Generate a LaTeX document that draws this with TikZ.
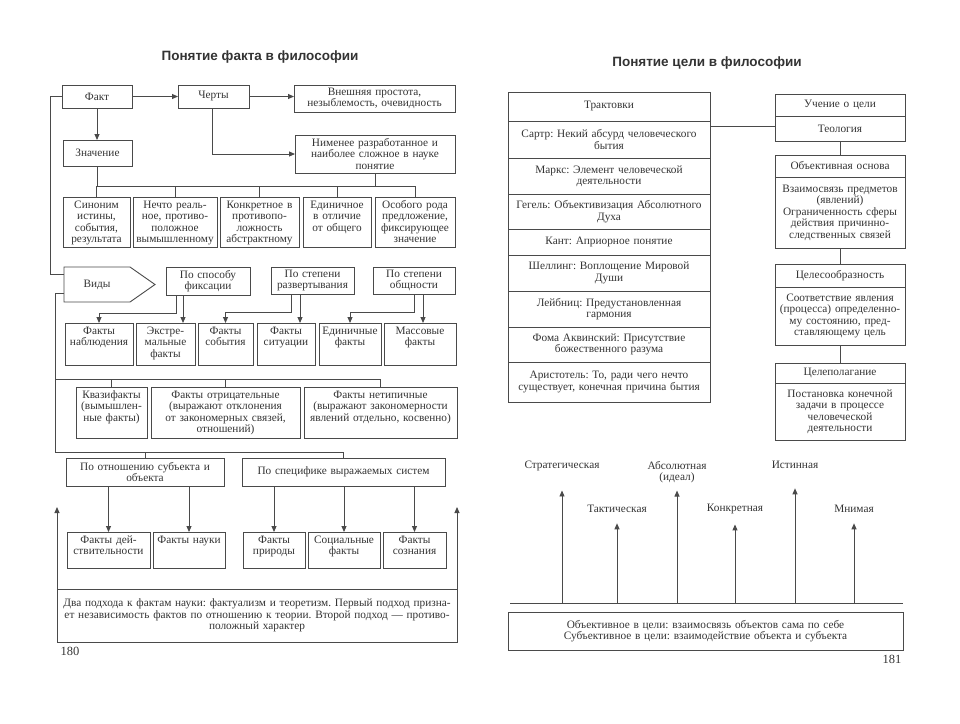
\documentclass[tikz,border=0pt]{standalone}
\usepackage{fontspec}
\setmainfont{Liberation Serif}
\newfontfamily\headfont{Liberation Sans}
\usetikzlibrary{arrows.meta, positioning, shapes.symbols}
\definecolor{ink}{HTML}{333333}
\definecolor{rule}{HTML}{4A4A4A}
\frenchspacing

\begin{document}
\begin{tikzpicture}[
  x=1pt, y=-1pt,
  every node/.style={font=\fontsize{11.3}{11.5}\selectfont, text=ink},
  box/.style={rectangle, draw=rule, line width=0.9pt, align=center, anchor=north,
    inner xsep=2pt, inner ysep=3pt, outer sep=0pt},
  dims/.style 2 args={text width=#1-4pt, minimum height=#2},
  topdims/.style 2 args={text width=#1-4pt, inner ysep=2.5pt, text height=8.5pt, text depth=#2-13.5pt},
  line/.style={draw=rule, line width=0.9pt},
  arrow/.style={-{Triangle[length=6pt, width=5pt]}, draw=rule, line width=0.9pt},
  title/.style={font=\headfont\bfseries\fontsize{13.5}{15}\selectfont}
]
\useasboundingbox (0,0) rectangle (960,723);

% ---------------- Left page: fact ----------------
\node[title] (head1) at (260,57) {Понятие факта в философии};

\node[box, dims={70}{23}] (fakt) at (97,85) {Факт};
\node[box, dims={71}{23}] (cherty) at (213.5,85) {Черты};
\node[box, dims={161}{27}] (vnesh) at (374.5,85) {Внешняя простота,\\незыблемость, очевидность};
\node[box, dims={69}{26}] (znach) at (97.5,140) {Значение};
\node[box, dims={160}{38}] (nimen) at (375,135) {Нименее разработанное и\\наиболее сложное в науке\\понятие};

\draw[arrow] (fakt) -- (cherty);
\draw[arrow] (cherty.east) -- (cherty.east -| vnesh.west);
\draw[arrow] (fakt) -- (fakt |- znach.north);
\draw[arrow] ([xshift=-1.5pt]cherty.south) |- (nimen.west);

% meanings
\node[box, topdims={67}{50}] (sinonim) at (96.5,197) {Синоним\\истины,\\события,\\результата};
\node[box, topdims={84}{50}] (nechto) at (175,197) {Нечто реаль-\\ное, противо-\\положное\\вымышленному};
\node[box, topdims={79}{50}] (konkret) at (259.5,197) {Конкретное в\\противопо-\\ложность\\абстрактному};
\node[box, topdims={68}{50}] (edinich) at (337,197) {Единичное\\в отличие\\от общего};
\node[box, topdims={80}{50}] (osoby) at (415,197) {Особого рода\\предложение,\\фиксирующее\\значение};

\coordinate (bus1) at (97,186);
\draw[line] (znach) -- (znach |- bus1) -| (osoby);
\draw[line] (nimen) -- (nimen |- bus1);
\foreach \n in {sinonim, nechto, konkret, edinich}
  \draw[line] (\n |- bus1) -- (\n);

% kinds
\node[draw=rule, line width=0.9pt, signal, signal to=east, signal pointer angle=70,
  minimum width=91, minimum height=35, inner sep=0pt, outer sep=0pt, anchor=west] (vidy) at (64,284.5) {Виды};
\node[box, dims={84}{27}] (sposob) at (208,267) {По способу\\фиксации};
\node[box, dims={83}{27}] (razv) at (312.5,267) {По степени\\развертывания};
\node[box, dims={82}{27}] (obsh) at (414,267) {По степени\\общности};

\draw[line] (fakt.west) -- ++(-12,0) |- ([yshift=10pt]vidy.west);

\node[box, topdims={68}{42}] (nabl) at (99,323) {Факты\\наблюдения};
\node[box, topdims={59}{42}] (extr) at (165.5,323) {Экстре-\\мальные\\факты};
\node[box, topdims={55}{42}] (sobyt) at (225.5,323) {Факты\\события};
\node[box, topdims={58}{42}] (situac) at (286,323) {Факты\\ситуации};
\node[box, topdims={62}{42}] (edinf) at (350,323) {Единичные\\факты};
\node[box, topdims={72}{42}] (massf) at (420,323) {Массовые\\факты};

\draw[arrow] ([xshift=-32pt]sposob.south) -- ++(0,18) -| (nabl);
\draw[arrow] ([xshift=-25pt]sposob.south) -- ([xshift=-25pt]sposob.south |- extr.north);
\draw[arrow] ([xshift=-21.5pt]razv.south) -- ++(0,18) -| (sobyt);
\draw[arrow] ([xshift=-12.5pt]razv.south) -- ([xshift=-12.5pt]razv.south |- situac.north);
\draw[arrow] (obsh.south) -- ++(0,18) -| (edinf);
\draw[arrow] ([xshift=9pt]obsh.south) -- ([xshift=9pt]obsh.south |- massf.north);

% quasi, negative, atypical
\node[box, topdims={71}{51}] (kvazi) at (111.5,387) {Квазифакты\\(вымышлен-\\ные факты)};
\node[box, topdims={149}{51}] (otric) at (225.5,387) {Факты отрицательные\\(выражают отклонения\\от закономерных связей,\\отношений)};
\node[box, topdims={153}{51}] (netip) at (380.5,387) {Факты нетипичные\\(выражают закономерности\\явлений отдельно, косвенно)};

% subject/object and systems
\node[box, dims={158}{28}] (otnosh) at (145,458) {По отношению субъекта и\\объекта};
\node[box, dims={203}{28}] (specif) at (343.5,458) {По специфике выражаемых систем};

\coordinate (bus2) at (55,379);
\coordinate (bus3) at (55,452);
\draw[line] ([yshift=-8.5pt]vidy.west) -| (bus3) -| (specif);
\draw[line] (bus2) -| (netip);
\draw[line] (kvazi |- bus2) -- (kvazi);
\draw[line] (otric |- bus2) -- (otric);
\draw[line] (otnosh |- bus3) -- (otnosh);

\node[box, topdims={83}{36}] (deistv) at (108.5,532) {Факты дей-\\ствительности};
\node[box, topdims={72}{36}] (nauki) at (189,532) {Факты науки};
\node[box, topdims={62}{36}] (prirod) at (274,532) {Факты\\природы};
\node[box, topdims={72}{36}] (socf) at (344,532) {Социальные\\факты};
\node[box, topdims={63}{36}] (soznan) at (414.5,532) {Факты\\сознания};

\foreach \n in {deistv, nauki}
  \draw[arrow] (\n |- otnosh.south) -- (\n);
\foreach \n in {prirod, socf, soznan}
  \draw[arrow] (\n |- specif.south) -- (\n);

% two approaches
\node[box, dims={400}{53}] (podhod) at (257,589) {Два подхода к фактам науки: фактуализм и теоретизм. Первый подход призна-\\ет независимость фактов по отношению к теории. Второй подход — противо-\\положный характер};
\coordinate (upL) at (57,507);
\coordinate (upR) at (457,507);
\draw[arrow] (podhod.north west) -- (upL);
\draw[arrow] (podhod.north east) -- (upR);

\node[anchor=west, font=\fontsize{12.5}{14}\selectfont] (page1) at (57,651) {180};

% ---------------- Right page: goal ----------------
\node[title] (head2) at (707,63) {Понятие цели в философии};

\node[box, dims={202}{29}] (trakt) at (609,92) {Трактовки};
\node[box, dims={202}{37}, below=0pt of trakt] (sartr) {Сартр: Некий абсурд человеческого\\бытия};
\node[box, dims={202}{36}, below=0pt of sartr] (marks) {Маркс: Элемент человеческой\\деятельности};
\node[box, dims={202}{35}, below=0pt of marks] (gegel) {Гегель: Объективизация Абсолютного\\Духа};
\node[box, dims={202}{26}, below=0pt of gegel] (kant) {Кант: Априорное понятие};
\node[box, dims={202}{36}, below=0pt of kant] (shell) {Шеллинг: Воплощение Мировой\\Души};
\node[box, dims={202}{36}, below=0pt of shell] (leibn) {Лейбниц: Предустановленная\\гармония};
\node[box, dims={202}{35}, below=0pt of leibn] (foma) {Фома Аквинский: Присутствие\\божественного разума};
\node[box, dims={202}{40}, below=0pt of foma] (arist) {Аристотель: То, ради чего нечто\\существует, конечная причина бытия};

\node[box, dims={130}{22}] (uchen) at (840,94) {Учение о цели};
\node[box, dims={130}{25}, below=0pt of uchen] (teol) {Теология};
\node[box, dims={130}{22}] (obosn) at (840,155) {Объективная основа};
\node[box, dims={130}{71}, below=0pt of obosn] (obosntxt) {Взаимосвязь предметов\\(явлений)\\Ограниченность сферы\\действия причинно-\\следственных связей};
\node[box, dims={130}{23}] (celes) at (840,264) {Целесообразность};
\node[box, dims={130}{58}, below=0pt of celes] (celestxt) {Соответствие явления\\(процесса) определенно-\\му состоянию, пред-\\ставляющему цель};
\node[box, dims={130}{20}] (celep) at (840,363) {Целеполагание};
\node[box, dims={130}{57}, below=0pt of celep] (celeptxt) {Постановка конечной\\задачи в процессе\\человеческой\\деятельности};

\draw[line] ([yshift=2pt]teol.west) -- ([yshift=2pt]teol.west -| sartr.east);
\draw[line] (teol) -- (obosn);
\draw[line] (obosntxt) -- (celes);
\draw[line] (celestxt) -- (celep);

% kinds of goal
\node (strateg) at (562,466) {Стратегическая};
\node[align=center] (absolut) at (677,472) {Абсолютная\\(идеал)};
\node (istinn) at (795,465) {Истинная};
\node (taktich) at (617,509) {Тактическая};
\node (konkretn) at (735,509) {Конкретная};
\node (mnim) at (854,509) {Мнимая};

\coordinate (axisL) at (510,603);
\coordinate (axisR) at (903,603);
\draw[line] (axisL) -- (axisR);
\foreach \n/\s in {strateg/16pt, taktich/7pt, absolut/4pt, konkretn/7pt, istinn/16pt, mnim/7pt}
  \draw[arrow, shorten >=\s] (\n |- axisL) -- (\n);

\node[box, dims={395}{38}] (obsub) at (705.5,612) {Объективное в цели: взаимосвязь объектов сама по себе\\Субъективное в цели: взаимодействие объекта и субъекта};

\node[anchor=east, font=\fontsize{12.5}{14}\selectfont] (page2) at (905,659) {181};

\end{tikzpicture}
\end{document}
